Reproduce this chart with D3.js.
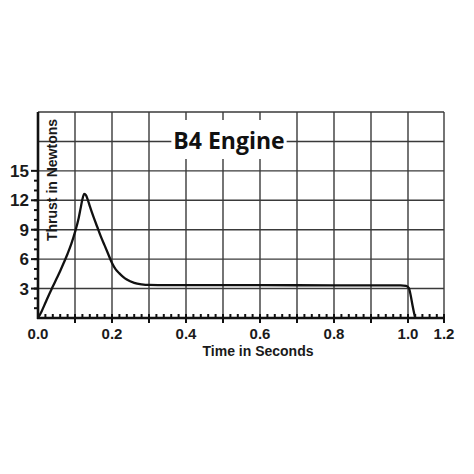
<!DOCTYPE html>
<html>
<head>
<meta charset="utf-8">
<script src="https://cdn.jsdelivr.net/npm/d3@7"></script>
<style>
  body { margin: 0; background: #fff; }
  svg { display: block; }
</style>
</head>
<body>
<svg></svg>
<script>
// thrust curve
var timeSec = [0, 0.01, 0.02, 0.03, 0.04, 0.05, 0.06, 0.07, 0.08, 0.09, 0.1, 0.11, 0.115, 0.12, 0.125,
  0.13, 0.135, 0.14, 0.15, 0.16, 0.17, 0.18, 0.19, 0.2, 0.21, 0.22, 0.23, 0.24, 0.26, 0.28, 0.3,
  0.4, 0.6, 0.8, 0.98, 0.995, 1.005, 1.015, 1.025, 1.035, 1.04];
var thrustN = [0, 0.7, 1.55, 2.4, 3.2, 4.0, 4.8, 5.65, 6.55, 7.55, 8.75, 10.2, 11.15, 12.1, 12.65,
  12.5, 12.0, 11.4, 10.3, 9.3, 8.3, 7.4, 6.5, 5.6, 4.95, 4.55, 4.2, 3.92, 3.58, 3.43, 3.37,
  3.35, 3.35, 3.33, 3.33, 3.28, 3.05, 2.3, 1.3, 0.4, 0];

var xTickLabels = [0, 0.2, 0.4, 0.6, 0.8, 1.0, 1.2];
var yTickLabels = [3, 6, 9, 12, 15];
var xGridLines = [0.1, 0.2, 0.3, 0.4, 0.5, 0.6, 0.7, 0.8, 0.9, 1.0, 1.2];
var yGridLines = [3, 6, 9, 12, 15, 18, 21];

var chartTitle = "B4 Engine",
    xTitle = "Time in Seconds",
    yTitle = "Thrust in Newtons";

var width = 474, height = 474;

var svg = d3.select("svg").attr("width", width).attr("height", height);

// the last column of the original covers 1.0 - 1.2 in the width of 0.1
var x = d3.scaleLinear().domain([0, 1.0, 1.2]).range([38, 408, 444]);
var y = d3.scaleLinear().domain([0, 21]).range([318, 112]);

var grid = svg.append("g")
    .attr("stroke", "#3a3a3a")
    .attr("stroke-width", 1.4);

grid.selectAll(".vg")
  .data(xGridLines).enter()
  .append("line")
  .attr("x1", function(d){ return x(d); })
  .attr("x2", function(d){ return x(d); })
  .attr("y1", y(0))
  .attr("y2", y(21));

grid.selectAll(".hg")
  .data(yGridLines).enter()
  .append("line")
  .attr("x1", x(0))
  .attr("x2", x(1.2))
  .attr("y1", function(d){ return y(d); })
  .attr("y2", function(d){ return y(d); });

// title with a white box over the grid
var title = svg.append("text")
    .attr("x", 229)
    .attr("y", 149)
    .attr("text-anchor", "middle")
    .style("font-family", "'Open Sans', sans-serif")
    .style("font-weight", "bold")
    .style("font-size", "23px")
    .attr("fill", "#111")
    .text(chartTitle);
var bb = title.node().getBBox();
svg.insert("rect", "text")
    .attr("x", bb.x - 2)
    .attr("y", 120)
    .attr("width", bb.width + 4)
    .attr("height", 39)
    .attr("fill", "#fff");

// minor and major ticks
var ticks = svg.append("g").attr("stroke", "#111").attr("stroke-width", 2);

var xMinor = d3.range(0.02, 1.0, 0.02).concat(d3.range(1.04, 1.2, 0.04));
ticks.selectAll(".xm")
  .data(xMinor).enter()
  .append("line")
  .attr("x1", function(d){ return x(d); })
  .attr("x2", function(d){ return x(d); })
  .attr("y1", y(0))
  .attr("y2", y(0) - 4);

ticks.selectAll(".xM")
  .data(xGridLines).enter()
  .append("line")
  .attr("x1", function(d){ return x(d); })
  .attr("x2", function(d){ return x(d); })
  .attr("y1", y(0) - 4)
  .attr("y2", y(0) + 5);

var yMinor = d3.range(1, 15);
ticks.selectAll(".ym")
  .data(yMinor).enter()
  .append("line")
  .attr("x1", x(0))
  .attr("x2", x(0) - 4)
  .attr("y1", function(d){ return y(d); })
  .attr("y2", function(d){ return y(d); });

ticks.selectAll(".yM")
  .data(yTickLabels).enter()
  .append("line")
  .attr("x1", x(0))
  .attr("x2", x(0) - 7)
  .attr("y1", function(d){ return y(d); })
  .attr("y2", function(d){ return y(d); });

// axis lines
svg.append("line")
    .attr("x1", x(0)).attr("x2", x(0))
    .attr("y1", y(0) + 1).attr("y2", y(21))
    .attr("stroke", "#111").attr("stroke-width", 2.6);
svg.append("line")
    .attr("x1", x(0) - 1).attr("x2", x(1.2))
    .attr("y1", y(0)).attr("y2", y(0))
    .attr("stroke", "#111").attr("stroke-width", 2.6);

// thrust curve
var line = d3.line()
    .x(function(d, i){ return x(timeSec[i]); })
    .y(function(d){ return y(d); })
    .curve(d3.curveMonotoneX);

svg.append("path")
    .datum(thrustN)
    .attr("d", line)
    .attr("fill", "none")
    .attr("stroke", "#111")
    .attr("stroke-width", 2.3)
    .attr("stroke-linejoin", "round");

// tick labels
var fmt = d3.format(".1f");
svg.selectAll(".xl")
  .data(xTickLabels).enter()
  .append("text")
  .attr("x", function(d){ return x(d); })
  .attr("y", 339)
  .attr("text-anchor", "middle")
  .style("font-family", "'Liberation Sans', Arial, sans-serif")
  .style("font-weight", "bold")
  .style("font-size", "15px")
  .attr("fill", "#1a1a1a")
  .text(function(d){ return fmt(d); });

svg.selectAll(".yl")
  .data(yTickLabels).enter()
  .append("text")
  .attr("x", 29)
  .attr("y", function(d){ return y(d); })
  .attr("dy", "0.36em")
  .attr("text-anchor", "end")
  .style("font-family", "'Liberation Sans', Arial, sans-serif")
  .style("font-weight", "bold")
  .style("font-size", "17px")
  .attr("fill", "#1a1a1a")
  .text(function(d){ return d; });

// axis titles
svg.append("text")
    .attr("x", 258)
    .attr("y", 356)
    .attr("text-anchor", "middle")
    .style("font-family", "'Liberation Sans', Arial, sans-serif")
    .style("font-weight", "bold")
    .style("font-size", "14px")
    .attr("fill", "#1a1a1a")
    .text(xTitle);

svg.append("text")
    .attr("text-anchor", "middle")
    .attr("transform", "translate(57, 180)rotate(-90)")
    .style("font-family", "'Liberation Sans', Arial, sans-serif")
    .style("font-weight", "bold")
    .style("font-size", "14px")
    .attr("fill", "#1a1a1a")
    .text(yTitle);
</script>
</body>
</html>
